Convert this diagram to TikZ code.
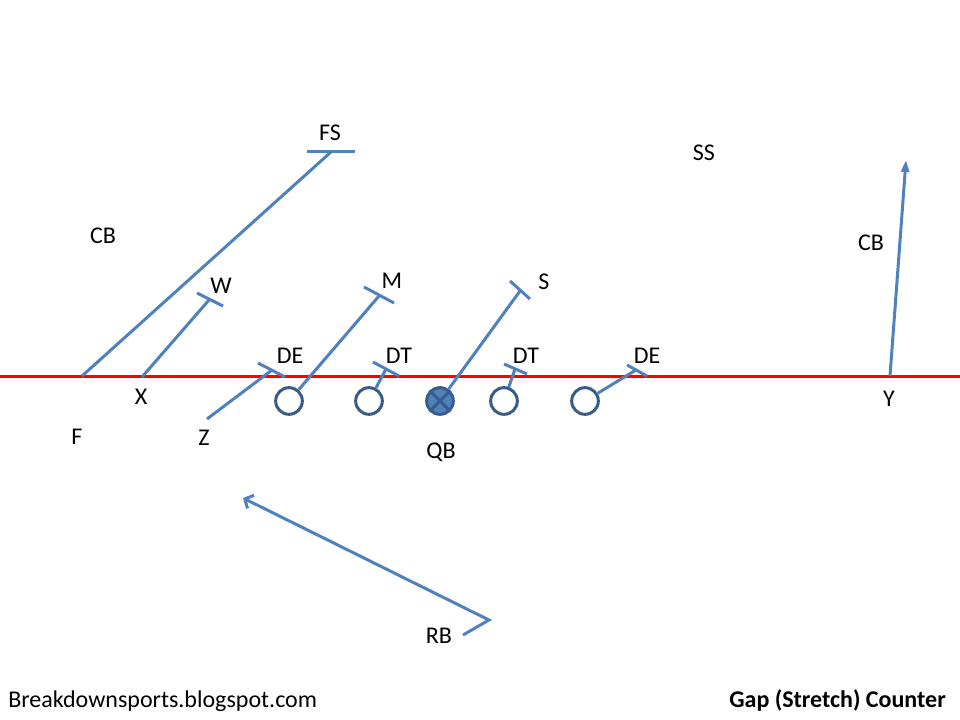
\documentclass[tikz,border=0pt]{standalone}
\usepackage{fontspec}
\setmainfont{Carlito}
\usetikzlibrary{arrows.meta}
\definecolor{routeblue}{HTML}{4F81BD}
\definecolor{ringblue}{HTML}{385D8A}

\begin{document}
\begin{tikzpicture}[x=0.75pt,y=-0.75pt,
    route/.style={routeblue,line width=2.25pt},
    lineman/.style={circle,draw=ringblue,line width=2.25pt,minimum size=20pt,inner sep=0pt},
    lbl/.style={font=\fontsize{18}{22}\selectfont,inner sep=0pt}]
        \useasboundingbox (0,0) rectangle (960,720);
        \draw[red,line width=2.25pt] (0,376)--(960,376);
        % offensive line
        \node[lineman] (lt) at (289,401){};
        \node[lineman] (lg) at (369,401){};
        \node[lineman,fill=routeblue] (ctr) at (440,401){};
        \draw[ringblue,line width=2.25pt] (ctr.45)--(ctr.225) (ctr.135)--(ctr.315);
        \node[lineman] (rg) at (504,401){};
        \node[lineman] (rt) at (585,401){};
        % labels
        \node[lbl] (fs) at (330,133){FS};
        \node[lbl] (cbl) at (103,236){CB};
        \node[lbl] (w) at (221,286){W};
        \node[lbl] (m) at (392,281){M};
        \node[lbl] (s) at (544,282){S};
        \node[lbl] (del) at (290,356){DE};
        \node[lbl] (dtl) at (399,356){DT};
        \node[lbl] (dtr) at (526,356){DT};
        \node[lbl] (der) at (647,356){DE};
        \node[lbl] (x) at (141,397){X};
        \node[lbl] (f) at (77,437){F};
        \node[lbl] (z) at (204,438){Z};
        \node[lbl] (qb) at (441,452){QB};
        \node[lbl] (ss) at (704,153){SS};
        \node[lbl] (cbr) at (871,243){CB};
        \node[lbl] (y) at (889,399){Y};
        \node[lbl] (rb) at (439,636){RB};
        \node[lbl,anchor=base west] (site) at (8,707){Breakdownsports.blogspot.com};
        \node[lbl,anchor=base east,font=\fontsize{18}{22}\selectfont\bfseries] (title) at (946,707){Gap (Stretch) Counter};
        % route starts and block points
        \coordinate (fstart) at (82,376);
        \coordinate (xstart) at (142,377);
        \coordinate (zstart) at (207,419);
        \coordinate (ystart) at (890,376);
        \coordinate (yend) at (906,160);
        \coordinate (rbstart) at (463,635);
        \coordinate (rbturn) at (489,620);
        \coordinate (rbend) at (243,498);
        \coordinate (bfs) at (331,152);
        \coordinate (bw) at (209,300);
        \coordinate (bm) at (379,296);
        \coordinate (bs) at (520,291);
        \coordinate (bdel) at (272,370);
        \coordinate (bdtl) at (386,369);
        \coordinate (bdtr) at (515,369);
        \coordinate (bder) at (636,370);
        % blocks
        \draw[route] (fstart)--(bfs);
        \draw[route] (bfs) +(-24,0)--+(24,0);
        \draw[route] (xstart)--(bw);
        \draw[route] (bw) +(-12,-7)--+(14,6);
        \draw[route] (zstart)--(bdel);
        \draw[route] (bdel) +(-14,-7)--+(13,7);
        \draw[route] (lt)--(bm);
        \draw[route] (bm) +(-15,-9)--+(15,7);
        \draw[route] (lg)--(bdtl);
        \draw[route] (bdtl) +(-13,-7)--+(13,7);
        \draw[route] (ctr)--(bs);
        \draw[route] (bs) +(-10,-10)--+(10,8);
        \draw[route] (rg)--(bdtr);
        \draw[route] (bdtr) +(-11,-5)--+(12,5);
        \draw[route] (rt)--(bder);
        \draw[route] (bder) +(-9,-5)--+(11,6);
        % runs
        \draw[route,-{Triangle[length=9pt,width=6pt]}] (ystart)--(yend);
        \draw[route,-{Straight Barb[length=5pt,width=11pt]}] (rbstart)--(rbturn)--(rbend);
      \end{tikzpicture}
\end{document}
